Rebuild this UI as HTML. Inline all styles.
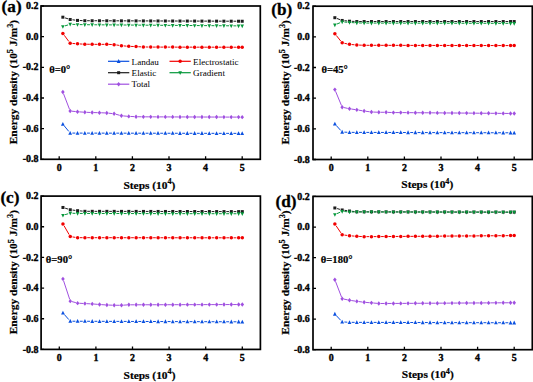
<!DOCTYPE html>
<html><head><meta charset="utf-8"><style>
html,body{margin:0;padding:0;background:#fff;}
svg{display:block;}
text{font-family:"Liberation Serif",serif;fill:#000;}
.tk{font-weight:bold;font-size:9.4px;stroke:#000;stroke-width:0.35px;}
.ax{font-weight:bold;font-size:11.4px;stroke:#000;stroke-width:0.2px;}
.sup{font-size:8.2px;}
.pl{font-weight:bold;font-size:17.2px;stroke:#000;stroke-width:0.3px;}
.th{font-weight:bold;font-size:10.6px;stroke:#000;stroke-width:0.2px;}
.lg{font-size:9.1px;}
</style></head><body>
<svg width="533" height="382" viewBox="0 0 533 382">
<rect width="533" height="382" fill="#fff"/>
<path d="M64.26,125.89L68.78,131.39M72.38,133.09L75.30,133.09M79.70,133.10L82.62,133.11M87.02,133.12L89.94,133.12M94.34,133.13L97.26,133.13M101.66,133.14L104.58,133.15M108.98,133.15L111.90,133.16M116.30,133.17L119.22,133.17M123.62,133.18L126.54,133.18M130.94,133.19L133.86,133.20M138.26,133.20L141.18,133.21M145.58,133.22L148.50,133.22M152.90,133.23L155.82,133.24M160.22,133.24L163.14,133.25M167.54,133.26L170.46,133.26M174.86,133.27L177.78,133.27M182.18,133.28L185.10,133.29M189.50,133.29L192.42,133.30M196.82,133.31L199.74,133.31M204.14,133.32L207.06,133.32M211.46,133.33L214.38,133.34M218.78,133.35L221.70,133.35M226.10,133.36L229.02,133.36M233.42,133.37L236.34,133.38" fill="none" stroke="#0a50e0" stroke-width="1"/>
<path d="M62.86,121.99L64.76,125.79L60.96,125.79Z" fill="#0a50e0"/>
<path d="M70.18,130.89L72.08,134.69L68.28,134.69Z" fill="#0a50e0"/>
<path d="M77.50,130.90L79.40,134.70L75.60,134.70Z" fill="#0a50e0"/>
<path d="M84.82,130.91L86.72,134.71L82.92,134.71Z" fill="#0a50e0"/>
<path d="M92.14,130.92L94.04,134.72L90.24,134.72Z" fill="#0a50e0"/>
<path d="M99.46,130.94L101.36,134.74L97.56,134.74Z" fill="#0a50e0"/>
<path d="M106.78,130.95L108.68,134.75L104.88,134.75Z" fill="#0a50e0"/>
<path d="M114.10,130.96L116.00,134.76L112.20,134.76Z" fill="#0a50e0"/>
<path d="M121.42,130.98L123.32,134.78L119.52,134.78Z" fill="#0a50e0"/>
<path d="M128.74,130.99L130.64,134.79L126.84,134.79Z" fill="#0a50e0"/>
<path d="M136.06,131.00L137.96,134.80L134.16,134.80Z" fill="#0a50e0"/>
<path d="M143.38,131.01L145.28,134.81L141.48,134.81Z" fill="#0a50e0"/>
<path d="M150.70,131.03L152.60,134.83L148.80,134.83Z" fill="#0a50e0"/>
<path d="M158.02,131.04L159.92,134.84L156.12,134.84Z" fill="#0a50e0"/>
<path d="M165.34,131.05L167.24,134.85L163.44,134.85Z" fill="#0a50e0"/>
<path d="M172.66,131.06L174.56,134.86L170.76,134.86Z" fill="#0a50e0"/>
<path d="M179.98,131.08L181.88,134.88L178.08,134.88Z" fill="#0a50e0"/>
<path d="M187.30,131.09L189.20,134.89L185.40,134.89Z" fill="#0a50e0"/>
<path d="M194.62,131.10L196.52,134.90L192.72,134.90Z" fill="#0a50e0"/>
<path d="M201.94,131.12L203.84,134.92L200.04,134.92Z" fill="#0a50e0"/>
<path d="M209.26,131.13L211.16,134.93L207.36,134.93Z" fill="#0a50e0"/>
<path d="M216.58,131.14L218.48,134.94L214.68,134.94Z" fill="#0a50e0"/>
<path d="M223.90,131.15L225.80,134.95L222.00,134.95Z" fill="#0a50e0"/>
<path d="M231.22,131.17L233.12,134.97L229.32,134.97Z" fill="#0a50e0"/>
<path d="M238.54,131.18L240.44,134.98L236.64,134.98Z" fill="#0a50e0"/>
<path d="M242.20,131.19L244.10,134.99L240.30,134.99Z" fill="#0a50e0"/>
<path d="M64.24,35.28L68.80,41.41M72.47,43.44L75.21,43.67M79.80,43.96L82.52,44.08M87.12,44.22L89.84,44.28M94.44,44.33L97.16,44.33M101.76,44.33L104.48,44.33M109.08,44.42L111.80,44.54M116.38,44.97L119.14,45.37M123.71,45.90L126.45,46.13M131.04,46.41L133.76,46.53M138.36,46.72L141.08,46.83M145.68,46.98L148.40,47.04M153.00,47.09L155.72,47.09M160.32,47.10L163.04,47.10M167.64,47.11L170.36,47.12M174.96,47.12L177.68,47.13M182.28,47.14L185.00,47.14M189.60,47.15L192.32,47.15M196.92,47.16L199.64,47.16M204.24,47.17L206.96,47.18M211.56,47.18L214.28,47.19M218.88,47.19L221.60,47.20M226.20,47.21L228.92,47.21M233.52,47.22L236.24,47.22" fill="none" stroke="#f20000" stroke-width="1"/>
<circle cx="62.86" cy="33.44" r="1.75" fill="#f20000"/>
<circle cx="70.18" cy="43.25" r="1.75" fill="#f20000"/>
<circle cx="77.50" cy="43.87" r="1.75" fill="#f20000"/>
<circle cx="84.82" cy="44.17" r="1.75" fill="#f20000"/>
<circle cx="92.14" cy="44.33" r="1.75" fill="#f20000"/>
<circle cx="99.46" cy="44.33" r="1.75" fill="#f20000"/>
<circle cx="106.78" cy="44.33" r="1.75" fill="#f20000"/>
<circle cx="114.10" cy="44.63" r="1.75" fill="#f20000"/>
<circle cx="121.42" cy="45.70" r="1.75" fill="#f20000"/>
<circle cx="128.74" cy="46.32" r="1.75" fill="#f20000"/>
<circle cx="136.06" cy="46.62" r="1.75" fill="#f20000"/>
<circle cx="143.38" cy="46.93" r="1.75" fill="#f20000"/>
<circle cx="150.70" cy="47.08" r="1.75" fill="#f20000"/>
<circle cx="158.02" cy="47.10" r="1.75" fill="#f20000"/>
<circle cx="165.34" cy="47.11" r="1.75" fill="#f20000"/>
<circle cx="172.66" cy="47.12" r="1.75" fill="#f20000"/>
<circle cx="179.98" cy="47.13" r="1.75" fill="#f20000"/>
<circle cx="187.30" cy="47.14" r="1.75" fill="#f20000"/>
<circle cx="194.62" cy="47.16" r="1.75" fill="#f20000"/>
<circle cx="201.94" cy="47.17" r="1.75" fill="#f20000"/>
<circle cx="209.26" cy="47.18" r="1.75" fill="#f20000"/>
<circle cx="216.58" cy="47.19" r="1.75" fill="#f20000"/>
<circle cx="223.90" cy="47.20" r="1.75" fill="#f20000"/>
<circle cx="231.22" cy="47.21" r="1.75" fill="#f20000"/>
<circle cx="238.54" cy="47.23" r="1.75" fill="#f20000"/>
<circle cx="242.20" cy="47.24" r="1.75" fill="#f20000"/>
<path d="M65.05,17.88L67.99,18.80M72.46,19.78L75.22,20.12M79.80,20.51L82.52,20.62M87.12,20.72L89.84,20.73M94.44,20.75L97.16,20.76M101.76,20.77L104.48,20.78M109.08,20.80L111.80,20.81M116.40,20.82L119.12,20.83M123.72,20.85L126.44,20.86M131.04,20.87L133.76,20.88M138.36,20.90L141.08,20.90M145.68,20.92L148.40,20.93M153.00,20.94L155.72,20.95M160.32,20.97L163.04,20.98M167.64,20.99L170.36,21.00M174.96,21.02L177.68,21.03M182.28,21.04L185.00,21.05M189.60,21.07L192.32,21.07M196.92,21.09L199.64,21.10M204.24,21.11L206.96,21.12M211.56,21.14L214.28,21.15M218.88,21.16L221.60,21.17M226.20,21.19L228.92,21.20M233.52,21.21L236.24,21.22" fill="none" stroke="#1c1c1c" stroke-width="1"/>
<rect x="61.36" y="15.69" width="3" height="3" fill="#1c1c1c"/>
<rect x="68.68" y="17.99" width="3" height="3" fill="#1c1c1c"/>
<rect x="76.00" y="18.91" width="3" height="3" fill="#1c1c1c"/>
<rect x="83.32" y="19.22" width="3" height="3" fill="#1c1c1c"/>
<rect x="90.64" y="19.24" width="3" height="3" fill="#1c1c1c"/>
<rect x="97.96" y="19.27" width="3" height="3" fill="#1c1c1c"/>
<rect x="105.28" y="19.29" width="3" height="3" fill="#1c1c1c"/>
<rect x="112.60" y="19.31" width="3" height="3" fill="#1c1c1c"/>
<rect x="119.92" y="19.34" width="3" height="3" fill="#1c1c1c"/>
<rect x="127.24" y="19.36" width="3" height="3" fill="#1c1c1c"/>
<rect x="134.56" y="19.39" width="3" height="3" fill="#1c1c1c"/>
<rect x="141.88" y="19.41" width="3" height="3" fill="#1c1c1c"/>
<rect x="149.20" y="19.44" width="3" height="3" fill="#1c1c1c"/>
<rect x="156.52" y="19.46" width="3" height="3" fill="#1c1c1c"/>
<rect x="163.84" y="19.49" width="3" height="3" fill="#1c1c1c"/>
<rect x="171.16" y="19.51" width="3" height="3" fill="#1c1c1c"/>
<rect x="178.48" y="19.53" width="3" height="3" fill="#1c1c1c"/>
<rect x="185.80" y="19.56" width="3" height="3" fill="#1c1c1c"/>
<rect x="193.12" y="19.58" width="3" height="3" fill="#1c1c1c"/>
<rect x="200.44" y="19.61" width="3" height="3" fill="#1c1c1c"/>
<rect x="207.76" y="19.63" width="3" height="3" fill="#1c1c1c"/>
<rect x="215.08" y="19.66" width="3" height="3" fill="#1c1c1c"/>
<rect x="222.40" y="19.68" width="3" height="3" fill="#1c1c1c"/>
<rect x="229.72" y="19.70" width="3" height="3" fill="#1c1c1c"/>
<rect x="237.04" y="19.73" width="3" height="3" fill="#1c1c1c"/>
<rect x="240.70" y="19.75" width="3" height="3" fill="#1c1c1c"/>
<path d="M64.96,25.88L68.08,24.90M72.38,24.33L75.30,24.46M79.70,24.60L82.62,24.66M87.02,24.72L89.94,24.74M94.34,24.78L97.26,24.80M101.66,24.83L104.58,24.85M108.98,24.89L111.90,24.91M116.30,24.94L119.22,24.96M123.62,25.00L126.54,25.02M130.94,25.05L133.86,25.08M138.26,25.11L141.18,25.13M145.58,25.17L148.50,25.19M152.90,25.22L155.82,25.24M160.22,25.28L163.14,25.30M167.54,25.33L170.46,25.35M174.86,25.39L177.78,25.41M182.18,25.44L185.10,25.47M189.50,25.50L192.42,25.52M196.82,25.56L199.74,25.58M204.14,25.61L207.06,25.63M211.46,25.67L214.38,25.69M218.78,25.72L221.70,25.75M226.10,25.78L229.02,25.80M233.42,25.83L236.34,25.86" fill="none" stroke="#05983a" stroke-width="1"/>
<path d="M62.86,28.84L64.66,25.14L61.06,25.14Z" fill="#05983a"/>
<path d="M70.18,26.54L71.98,22.84L68.38,22.84Z" fill="#05983a"/>
<path d="M77.50,26.85L79.30,23.15L75.70,23.15Z" fill="#05983a"/>
<path d="M84.82,27.00L86.62,23.30L83.02,23.30Z" fill="#05983a"/>
<path d="M92.14,27.06L93.94,23.36L90.34,23.36Z" fill="#05983a"/>
<path d="M99.46,27.11L101.26,23.41L97.66,23.41Z" fill="#05983a"/>
<path d="M106.78,27.17L108.58,23.47L104.98,23.47Z" fill="#05983a"/>
<path d="M114.10,27.23L115.90,23.53L112.30,23.53Z" fill="#05983a"/>
<path d="M121.42,27.28L123.22,23.58L119.62,23.58Z" fill="#05983a"/>
<path d="M128.74,27.34L130.54,23.64L126.94,23.64Z" fill="#05983a"/>
<path d="M136.06,27.39L137.86,23.69L134.26,23.69Z" fill="#05983a"/>
<path d="M143.38,27.45L145.18,23.75L141.58,23.75Z" fill="#05983a"/>
<path d="M150.70,27.50L152.50,23.80L148.90,23.80Z" fill="#05983a"/>
<path d="M158.02,27.56L159.82,23.86L156.22,23.86Z" fill="#05983a"/>
<path d="M165.34,27.62L167.14,23.92L163.54,23.92Z" fill="#05983a"/>
<path d="M172.66,27.67L174.46,23.97L170.86,23.97Z" fill="#05983a"/>
<path d="M179.98,27.73L181.78,24.03L178.18,24.03Z" fill="#05983a"/>
<path d="M187.30,27.78L189.10,24.08L185.50,24.08Z" fill="#05983a"/>
<path d="M194.62,27.84L196.42,24.14L192.82,24.14Z" fill="#05983a"/>
<path d="M201.94,27.89L203.74,24.19L200.14,24.19Z" fill="#05983a"/>
<path d="M209.26,27.95L211.06,24.25L207.46,24.25Z" fill="#05983a"/>
<path d="M216.58,28.01L218.38,24.31L214.78,24.31Z" fill="#05983a"/>
<path d="M223.90,28.06L225.70,24.36L222.10,24.36Z" fill="#05983a"/>
<path d="M231.22,28.12L233.02,24.42L229.42,24.42Z" fill="#05983a"/>
<path d="M238.54,28.17L240.34,24.47L236.74,24.47Z" fill="#05983a"/>
<path d="M242.20,28.23L244.00,24.53L240.40,24.53Z" fill="#05983a"/>
<path d="M63.51,93.68L69.53,109.33M71.97,111.20L75.71,111.59M79.30,111.89L83.02,112.12M86.62,112.31L90.34,112.47M93.94,112.58L97.66,112.66M101.26,112.77L104.98,112.93M108.57,113.19L112.31,113.58M115.84,114.24L119.68,115.29M123.21,115.91L126.95,116.23M130.54,116.45L134.26,116.61M137.86,116.72L141.58,116.80M145.18,116.84L148.90,116.85M152.50,116.86L156.22,116.87M159.82,116.89L163.54,116.90M167.14,116.91L170.86,116.92M174.46,116.93L178.18,116.94M181.78,116.95L185.50,116.96M189.10,116.97L192.82,116.98M196.42,116.99L200.14,117.01M203.74,117.02L207.46,117.03M211.06,117.04L214.78,117.05M218.38,117.06L222.10,117.07M225.70,117.08L229.42,117.09M233.02,117.10L236.74,117.12" fill="none" stroke="#a050e0" stroke-width="1"/>
<path d="M62.86,89.80L64.66,92.00L62.86,94.20L61.06,92.00Z" fill="#a050e0"/>
<path d="M70.18,108.81L71.98,111.01L70.18,113.21L68.38,111.01Z" fill="#a050e0"/>
<path d="M77.50,109.58L79.30,111.78L77.50,113.98L75.70,111.78Z" fill="#a050e0"/>
<path d="M84.82,110.04L86.62,112.24L84.82,114.44L83.02,112.24Z" fill="#a050e0"/>
<path d="M92.14,110.34L93.94,112.54L92.14,114.74L90.34,112.54Z" fill="#a050e0"/>
<path d="M99.46,110.50L101.26,112.70L99.46,114.90L97.66,112.70Z" fill="#a050e0"/>
<path d="M106.78,110.80L108.58,113.00L106.78,115.20L104.98,113.00Z" fill="#a050e0"/>
<path d="M114.10,111.57L115.90,113.77L114.10,115.97L112.30,113.77Z" fill="#a050e0"/>
<path d="M121.42,113.56L123.22,115.76L121.42,117.96L119.62,115.76Z" fill="#a050e0"/>
<path d="M128.74,114.18L130.54,116.38L128.74,118.58L126.94,116.38Z" fill="#a050e0"/>
<path d="M136.06,114.48L137.86,116.68L136.06,118.88L134.26,116.68Z" fill="#a050e0"/>
<path d="M143.38,114.64L145.18,116.84L143.38,119.04L141.58,116.84Z" fill="#a050e0"/>
<path d="M150.70,114.66L152.50,116.86L150.70,119.06L148.90,116.86Z" fill="#a050e0"/>
<path d="M158.02,114.68L159.82,116.88L158.02,119.08L156.22,116.88Z" fill="#a050e0"/>
<path d="M165.34,114.70L167.14,116.90L165.34,119.10L163.54,116.90Z" fill="#a050e0"/>
<path d="M172.66,114.72L174.46,116.92L172.66,119.12L170.86,116.92Z" fill="#a050e0"/>
<path d="M179.98,114.75L181.78,116.95L179.98,119.15L178.18,116.95Z" fill="#a050e0"/>
<path d="M187.30,114.77L189.10,116.97L187.30,119.17L185.50,116.97Z" fill="#a050e0"/>
<path d="M194.62,114.79L196.42,116.99L194.62,119.19L192.82,116.99Z" fill="#a050e0"/>
<path d="M201.94,114.81L203.74,117.01L201.94,119.21L200.14,117.01Z" fill="#a050e0"/>
<path d="M209.26,114.83L211.06,117.03L209.26,119.23L207.46,117.03Z" fill="#a050e0"/>
<path d="M216.58,114.85L218.38,117.05L216.58,119.25L214.78,117.05Z" fill="#a050e0"/>
<path d="M223.90,114.88L225.70,117.08L223.90,119.28L222.10,117.08Z" fill="#a050e0"/>
<path d="M231.22,114.90L233.02,117.10L231.22,119.30L229.42,117.10Z" fill="#a050e0"/>
<path d="M238.54,114.92L240.34,117.12L238.54,119.32L236.74,117.12Z" fill="#a050e0"/>
<path d="M242.20,114.94L244.00,117.14L242.20,119.34L240.40,117.14Z" fill="#a050e0"/>
<rect x="41.00" y="6.00" width="219.30" height="153.30" fill="none" stroke="#000" stroke-width="1.7"/>
<path d="M41.00,6.00h3M41.00,36.66h3M41.00,67.32h3M41.00,97.98h3M41.00,128.64h3M41.00,159.30h3M59.20,159.30v-3M95.80,159.30v-3M132.40,159.30v-3M169.00,159.30v-3M205.60,159.30v-3M242.20,159.30v-3" stroke="#000" stroke-width="1.3"/>
<text class="tk" x="25.98" y="9.10" textLength="12.42" lengthAdjust="spacingAndGlyphs">0.2</text>
<text class="tk" x="25.98" y="39.76" textLength="12.42" lengthAdjust="spacingAndGlyphs">0.0</text>
<text class="tk" x="22.67" y="70.42" textLength="15.73" lengthAdjust="spacingAndGlyphs">-0.2</text>
<text class="tk" x="22.67" y="101.08" textLength="15.73" lengthAdjust="spacingAndGlyphs">-0.4</text>
<text class="tk" x="22.67" y="131.74" textLength="15.73" lengthAdjust="spacingAndGlyphs">-0.6</text>
<text class="tk" x="22.67" y="162.40" textLength="15.73" lengthAdjust="spacingAndGlyphs">-0.8</text>
<text class="tk" x="56.71" y="170.70" textLength="4.97" lengthAdjust="spacingAndGlyphs">0</text>
<text class="tk" x="93.31" y="170.70" textLength="4.97" lengthAdjust="spacingAndGlyphs">1</text>
<text class="tk" x="129.91" y="170.70" textLength="4.97" lengthAdjust="spacingAndGlyphs">2</text>
<text class="tk" x="166.51" y="170.70" textLength="4.97" lengthAdjust="spacingAndGlyphs">3</text>
<text class="tk" x="203.11" y="170.70" textLength="4.97" lengthAdjust="spacingAndGlyphs">4</text>
<text class="tk" x="239.71" y="170.70" textLength="4.97" lengthAdjust="spacingAndGlyphs">5</text>
<text class="ax" x="149.40" y="188.60" text-anchor="middle">Steps (10<tspan class="sup" dy="-4.3">4</tspan><tspan dy="4.3">)</tspan></text>
<text class="ax" transform="translate(16.60,82.10) rotate(-90)" text-anchor="middle">Energy density (10<tspan class="sup" dy="-3.2">5</tspan><tspan dy="3.2"> J/m</tspan><tspan class="sup" dy="-4.0">3</tspan><tspan dy="4.0">)</tspan></text>
<text class="pl" x="1.60" y="12.40">(a)</text>
<text class="th" x="49.20" y="73.40">θ=0°</text>
<path d="M108.00,61.30h21.3" stroke="#0a50e0" stroke-width="1.2"/>
<path d="M118.65,59.10L120.55,62.90L116.75,62.90Z" fill="#0a50e0"/>
<text class="lg" x="131.60" y="64.50">Landau</text>
<path d="M169.50,61.30h21.3" stroke="#f20000" stroke-width="1.2"/>
<circle cx="180.15" cy="61.30" r="1.75" fill="#f20000"/>
<text class="lg" x="193.10" y="64.50">Electrostatic</text>
<path d="M108.00,72.70h21.3" stroke="#1c1c1c" stroke-width="1.2"/>
<rect x="117.15" y="71.20" width="3" height="3" fill="#1c1c1c"/>
<text class="lg" x="131.60" y="75.90">Elastic</text>
<path d="M169.50,72.70h21.3" stroke="#05983a" stroke-width="1.2"/>
<path d="M180.15,75.00L181.95,71.30L178.35,71.30Z" fill="#05983a"/>
<text class="lg" x="193.10" y="75.90">Gradient</text>
<path d="M108.00,84.20h21.3" stroke="#a050e0" stroke-width="1.2"/>
<path d="M118.65,82.00L120.45,84.20L118.65,86.40L116.85,84.20Z" fill="#a050e0"/>
<text class="lg" x="131.60" y="87.40">Total</text>
<path d="M336.33,125.57L340.71,130.42M344.38,132.15L347.30,132.27M351.70,132.37L354.62,132.38M359.02,132.39L361.94,132.40M366.34,132.41L369.26,132.42M373.66,132.43L376.58,132.44M380.98,132.45L383.90,132.46M388.30,132.47L391.22,132.48M395.62,132.49L398.54,132.50M402.94,132.51L405.86,132.52M410.26,132.53L413.18,132.54M417.58,132.55L420.50,132.56M424.90,132.57L427.82,132.58M432.22,132.59L435.14,132.60M439.54,132.61L442.46,132.62M446.86,132.63L449.78,132.64M454.18,132.65L457.10,132.66M461.50,132.67L464.42,132.68M468.82,132.69L471.74,132.70M476.14,132.71L479.06,132.72M483.46,132.73L486.38,132.74M490.78,132.75L493.70,132.76M498.10,132.77L501.02,132.78M505.42,132.79L508.34,132.80" fill="none" stroke="#0a50e0" stroke-width="1"/>
<path d="M334.86,121.73L336.76,125.53L332.96,125.53Z" fill="#0a50e0"/>
<path d="M342.18,129.86L344.08,133.66L340.28,133.66Z" fill="#0a50e0"/>
<path d="M349.50,130.17L351.40,133.97L347.60,133.97Z" fill="#0a50e0"/>
<path d="M356.82,130.19L358.72,133.99L354.92,133.99Z" fill="#0a50e0"/>
<path d="M364.14,130.21L366.04,134.01L362.24,134.01Z" fill="#0a50e0"/>
<path d="M371.46,130.23L373.36,134.03L369.56,134.03Z" fill="#0a50e0"/>
<path d="M378.78,130.25L380.68,134.05L376.88,134.05Z" fill="#0a50e0"/>
<path d="M386.10,130.27L388.00,134.07L384.20,134.07Z" fill="#0a50e0"/>
<path d="M393.42,130.29L395.32,134.09L391.52,134.09Z" fill="#0a50e0"/>
<path d="M400.74,130.31L402.64,134.11L398.84,134.11Z" fill="#0a50e0"/>
<path d="M408.06,130.33L409.96,134.13L406.16,134.13Z" fill="#0a50e0"/>
<path d="M415.38,130.35L417.28,134.15L413.48,134.15Z" fill="#0a50e0"/>
<path d="M422.70,130.37L424.60,134.17L420.80,134.17Z" fill="#0a50e0"/>
<path d="M430.02,130.39L431.92,134.19L428.12,134.19Z" fill="#0a50e0"/>
<path d="M437.34,130.41L439.24,134.21L435.44,134.21Z" fill="#0a50e0"/>
<path d="M444.66,130.43L446.56,134.23L442.76,134.23Z" fill="#0a50e0"/>
<path d="M451.98,130.45L453.88,134.25L450.08,134.25Z" fill="#0a50e0"/>
<path d="M459.30,130.47L461.20,134.27L457.40,134.27Z" fill="#0a50e0"/>
<path d="M466.62,130.49L468.52,134.29L464.72,134.29Z" fill="#0a50e0"/>
<path d="M473.94,130.51L475.84,134.31L472.04,134.31Z" fill="#0a50e0"/>
<path d="M481.26,130.53L483.16,134.33L479.36,134.33Z" fill="#0a50e0"/>
<path d="M488.58,130.55L490.48,134.35L486.68,134.35Z" fill="#0a50e0"/>
<path d="M495.90,130.57L497.80,134.37L494.00,134.37Z" fill="#0a50e0"/>
<path d="M503.22,130.59L505.12,134.39L501.32,134.39Z" fill="#0a50e0"/>
<path d="M510.54,130.61L512.44,134.41L508.64,134.41Z" fill="#0a50e0"/>
<path d="M514.20,130.63L516.10,134.43L512.30,134.43Z" fill="#0a50e0"/>
<path d="M336.29,35.44L340.75,41.04M344.43,43.31L347.25,43.90M351.79,44.56L354.53,44.79M359.12,45.08L361.84,45.20M366.44,45.30L369.16,45.30M373.76,45.31L376.48,45.32M381.08,45.33L383.80,45.33M388.40,45.34L391.12,45.35M395.72,45.35L398.44,45.36M403.04,45.37L405.76,45.37M410.36,45.38L413.08,45.39M417.68,45.40L420.40,45.40M425.00,45.41L427.72,45.42M432.32,45.43L435.04,45.43M439.64,45.44L442.36,45.45M446.96,45.46L449.68,45.46M454.28,45.47L457.00,45.48M461.60,45.49L464.32,45.49M468.92,45.50L471.64,45.51M476.24,45.52L478.96,45.52M483.56,45.53L486.28,45.54M490.88,45.54L493.60,45.55M498.20,45.56L500.92,45.56M505.52,45.57L508.24,45.58" fill="none" stroke="#f20000" stroke-width="1"/>
<circle cx="334.86" cy="33.64" r="1.75" fill="#f20000"/>
<circle cx="342.18" cy="42.84" r="1.75" fill="#f20000"/>
<circle cx="349.50" cy="44.37" r="1.75" fill="#f20000"/>
<circle cx="356.82" cy="44.98" r="1.75" fill="#f20000"/>
<circle cx="364.14" cy="45.29" r="1.75" fill="#f20000"/>
<circle cx="371.46" cy="45.31" r="1.75" fill="#f20000"/>
<circle cx="378.78" cy="45.32" r="1.75" fill="#f20000"/>
<circle cx="386.10" cy="45.34" r="1.75" fill="#f20000"/>
<circle cx="393.42" cy="45.35" r="1.75" fill="#f20000"/>
<circle cx="400.74" cy="45.36" r="1.75" fill="#f20000"/>
<circle cx="408.06" cy="45.38" r="1.75" fill="#f20000"/>
<circle cx="415.38" cy="45.39" r="1.75" fill="#f20000"/>
<circle cx="422.70" cy="45.41" r="1.75" fill="#f20000"/>
<circle cx="430.02" cy="45.42" r="1.75" fill="#f20000"/>
<circle cx="437.34" cy="45.44" r="1.75" fill="#f20000"/>
<circle cx="444.66" cy="45.45" r="1.75" fill="#f20000"/>
<circle cx="451.98" cy="45.47" r="1.75" fill="#f20000"/>
<circle cx="459.30" cy="45.48" r="1.75" fill="#f20000"/>
<circle cx="466.62" cy="45.50" r="1.75" fill="#f20000"/>
<circle cx="473.94" cy="45.51" r="1.75" fill="#f20000"/>
<circle cx="481.26" cy="45.53" r="1.75" fill="#f20000"/>
<circle cx="488.58" cy="45.54" r="1.75" fill="#f20000"/>
<circle cx="495.90" cy="45.55" r="1.75" fill="#f20000"/>
<circle cx="503.22" cy="45.57" r="1.75" fill="#f20000"/>
<circle cx="510.54" cy="45.58" r="1.75" fill="#f20000"/>
<circle cx="514.20" cy="45.60" r="1.75" fill="#f20000"/>
<path d="M337.01,18.51L340.03,19.65M344.47,20.70L347.21,20.98M351.80,21.32L354.52,21.43M359.12,21.53L361.84,21.53M366.44,21.53L369.16,21.53M373.76,21.53L376.48,21.53M381.08,21.53L383.80,21.53M388.40,21.53L391.12,21.53M395.72,21.53L398.44,21.53M403.04,21.53L405.76,21.53M410.36,21.53L413.08,21.53M417.68,21.53L420.40,21.53M425.00,21.53L427.72,21.53M432.32,21.53L435.04,21.53M439.64,21.53L442.36,21.53M446.96,21.53L449.68,21.53M454.28,21.53L457.00,21.53M461.60,21.53L464.32,21.53M468.92,21.53L471.64,21.53M476.24,21.53L478.96,21.53M483.56,21.53L486.28,21.53M490.88,21.53L493.60,21.53M498.20,21.53L500.92,21.53M505.52,21.53L508.24,21.53" fill="none" stroke="#1c1c1c" stroke-width="1"/>
<rect x="333.36" y="16.20" width="3" height="3" fill="#1c1c1c"/>
<rect x="340.68" y="18.96" width="3" height="3" fill="#1c1c1c"/>
<rect x="348.00" y="19.72" width="3" height="3" fill="#1c1c1c"/>
<rect x="355.32" y="20.03" width="3" height="3" fill="#1c1c1c"/>
<rect x="362.64" y="20.03" width="3" height="3" fill="#1c1c1c"/>
<rect x="369.96" y="20.03" width="3" height="3" fill="#1c1c1c"/>
<rect x="377.28" y="20.03" width="3" height="3" fill="#1c1c1c"/>
<rect x="384.60" y="20.03" width="3" height="3" fill="#1c1c1c"/>
<rect x="391.92" y="20.03" width="3" height="3" fill="#1c1c1c"/>
<rect x="399.24" y="20.03" width="3" height="3" fill="#1c1c1c"/>
<rect x="406.56" y="20.03" width="3" height="3" fill="#1c1c1c"/>
<rect x="413.88" y="20.03" width="3" height="3" fill="#1c1c1c"/>
<rect x="421.20" y="20.03" width="3" height="3" fill="#1c1c1c"/>
<rect x="428.52" y="20.03" width="3" height="3" fill="#1c1c1c"/>
<rect x="435.84" y="20.03" width="3" height="3" fill="#1c1c1c"/>
<rect x="443.16" y="20.03" width="3" height="3" fill="#1c1c1c"/>
<rect x="450.48" y="20.03" width="3" height="3" fill="#1c1c1c"/>
<rect x="457.80" y="20.03" width="3" height="3" fill="#1c1c1c"/>
<rect x="465.12" y="20.03" width="3" height="3" fill="#1c1c1c"/>
<rect x="472.44" y="20.03" width="3" height="3" fill="#1c1c1c"/>
<rect x="479.76" y="20.03" width="3" height="3" fill="#1c1c1c"/>
<rect x="487.08" y="20.03" width="3" height="3" fill="#1c1c1c"/>
<rect x="494.40" y="20.03" width="3" height="3" fill="#1c1c1c"/>
<rect x="501.72" y="20.03" width="3" height="3" fill="#1c1c1c"/>
<rect x="509.04" y="20.03" width="3" height="3" fill="#1c1c1c"/>
<rect x="512.70" y="20.03" width="3" height="3" fill="#1c1c1c"/>
<path d="M336.89,24.05L340.15,22.69M344.37,22.02L347.31,22.27M351.70,22.59L354.62,22.77M359.02,22.96L361.94,23.02M366.34,23.07L369.26,23.07M373.66,23.08L376.58,23.09M380.98,23.10L383.90,23.10M388.30,23.11L391.22,23.12M395.62,23.13L398.54,23.13M402.94,23.14L405.86,23.15M410.26,23.15L413.18,23.16M417.58,23.17L420.50,23.18M424.90,23.18L427.82,23.19M432.22,23.20L435.14,23.20M439.54,23.21L442.46,23.22M446.86,23.23L449.78,23.23M454.18,23.24L457.10,23.25M461.50,23.26L464.42,23.26M468.82,23.27L471.74,23.28M476.14,23.29L479.06,23.29M483.46,23.30L486.38,23.31M490.78,23.32L493.70,23.32M498.10,23.33L501.02,23.34M505.42,23.34L508.34,23.35" fill="none" stroke="#05983a" stroke-width="1"/>
<path d="M334.86,27.20L336.66,23.50L333.06,23.50Z" fill="#05983a"/>
<path d="M342.18,24.14L343.98,20.44L340.38,20.44Z" fill="#05983a"/>
<path d="M349.50,24.75L351.30,21.05L347.70,21.05Z" fill="#05983a"/>
<path d="M356.82,25.21L358.62,21.51L355.02,21.51Z" fill="#05983a"/>
<path d="M364.14,25.36L365.94,21.66L362.34,21.66Z" fill="#05983a"/>
<path d="M371.46,25.38L373.26,21.68L369.66,21.68Z" fill="#05983a"/>
<path d="M378.78,25.39L380.58,21.69L376.98,21.69Z" fill="#05983a"/>
<path d="M386.10,25.41L387.90,21.71L384.30,21.71Z" fill="#05983a"/>
<path d="M393.42,25.42L395.22,21.72L391.62,21.72Z" fill="#05983a"/>
<path d="M400.74,25.44L402.54,21.74L398.94,21.74Z" fill="#05983a"/>
<path d="M408.06,25.45L409.86,21.75L406.26,21.75Z" fill="#05983a"/>
<path d="M415.38,25.47L417.18,21.77L413.58,21.77Z" fill="#05983a"/>
<path d="M422.70,25.48L424.50,21.78L420.90,21.78Z" fill="#05983a"/>
<path d="M430.02,25.49L431.82,21.79L428.22,21.79Z" fill="#05983a"/>
<path d="M437.34,25.51L439.14,21.81L435.54,21.81Z" fill="#05983a"/>
<path d="M444.66,25.52L446.46,21.82L442.86,21.82Z" fill="#05983a"/>
<path d="M451.98,25.54L453.78,21.84L450.18,21.84Z" fill="#05983a"/>
<path d="M459.30,25.55L461.10,21.85L457.50,21.85Z" fill="#05983a"/>
<path d="M466.62,25.57L468.42,21.87L464.82,21.87Z" fill="#05983a"/>
<path d="M473.94,25.58L475.74,21.88L472.14,21.88Z" fill="#05983a"/>
<path d="M481.26,25.60L483.06,21.90L479.46,21.90Z" fill="#05983a"/>
<path d="M488.58,25.61L490.38,21.91L486.78,21.91Z" fill="#05983a"/>
<path d="M495.90,25.63L497.70,21.93L494.10,21.93Z" fill="#05983a"/>
<path d="M503.22,25.64L505.02,21.94L501.42,21.94Z" fill="#05983a"/>
<path d="M510.54,25.66L512.34,21.96L508.74,21.96Z" fill="#05983a"/>
<path d="M514.20,25.67L516.00,21.97L512.40,21.97Z" fill="#05983a"/>
<path d="M335.55,91.26L341.49,105.56M343.94,107.59L347.74,108.39M351.28,109.02L355.04,109.57M358.60,110.13L362.36,110.76M365.93,111.28L369.67,111.75M373.26,112.05L376.98,112.21M380.58,112.28L384.30,112.28M387.90,112.36L391.62,112.51M395.22,112.59L398.94,112.59M402.54,112.60L406.26,112.63M409.86,112.66L413.58,112.69M417.18,112.72L420.90,112.75M424.50,112.78L428.22,112.81M431.82,112.83L435.54,112.86M439.14,112.89L442.86,112.92M446.46,112.95L450.18,112.98M453.78,113.01L457.50,113.04M461.10,113.06L464.82,113.09M468.42,113.12L472.14,113.15M475.74,113.18L479.46,113.21M483.06,113.24L486.78,113.27M490.38,113.29L494.10,113.32M497.70,113.35L501.42,113.38M505.02,113.41L508.74,113.44" fill="none" stroke="#a050e0" stroke-width="1"/>
<path d="M334.86,87.40L336.66,89.60L334.86,91.80L333.06,89.60Z" fill="#a050e0"/>
<path d="M342.18,105.02L343.98,107.22L342.18,109.42L340.38,107.22Z" fill="#a050e0"/>
<path d="M349.50,106.56L351.30,108.76L349.50,110.96L347.70,108.76Z" fill="#a050e0"/>
<path d="M356.82,107.63L358.62,109.83L356.82,112.03L355.02,109.83Z" fill="#a050e0"/>
<path d="M364.14,108.86L365.94,111.06L364.14,113.26L362.34,111.06Z" fill="#a050e0"/>
<path d="M371.46,109.78L373.26,111.98L371.46,114.18L369.66,111.98Z" fill="#a050e0"/>
<path d="M378.78,110.08L380.58,112.28L378.78,114.48L376.98,112.28Z" fill="#a050e0"/>
<path d="M386.10,110.08L387.90,112.28L386.10,114.48L384.30,112.28Z" fill="#a050e0"/>
<path d="M393.42,110.39L395.22,112.59L393.42,114.79L391.62,112.59Z" fill="#a050e0"/>
<path d="M400.74,110.39L402.54,112.59L400.74,114.79L398.94,112.59Z" fill="#a050e0"/>
<path d="M408.06,110.45L409.86,112.65L408.06,114.85L406.26,112.65Z" fill="#a050e0"/>
<path d="M415.38,110.51L417.18,112.71L415.38,114.91L413.58,112.71Z" fill="#a050e0"/>
<path d="M422.70,110.56L424.50,112.76L422.70,114.96L420.90,112.76Z" fill="#a050e0"/>
<path d="M430.02,110.62L431.82,112.82L430.02,115.02L428.22,112.82Z" fill="#a050e0"/>
<path d="M437.34,110.68L439.14,112.88L437.34,115.08L435.54,112.88Z" fill="#a050e0"/>
<path d="M444.66,110.74L446.46,112.94L444.66,115.14L442.86,112.94Z" fill="#a050e0"/>
<path d="M451.98,110.79L453.78,112.99L451.98,115.19L450.18,112.99Z" fill="#a050e0"/>
<path d="M459.30,110.85L461.10,113.05L459.30,115.25L457.50,113.05Z" fill="#a050e0"/>
<path d="M466.62,110.91L468.42,113.11L466.62,115.31L464.82,113.11Z" fill="#a050e0"/>
<path d="M473.94,110.97L475.74,113.17L473.94,115.37L472.14,113.17Z" fill="#a050e0"/>
<path d="M481.26,111.02L483.06,113.22L481.26,115.42L479.46,113.22Z" fill="#a050e0"/>
<path d="M488.58,111.08L490.38,113.28L488.58,115.48L486.78,113.28Z" fill="#a050e0"/>
<path d="M495.90,111.14L497.70,113.34L495.90,115.54L494.10,113.34Z" fill="#a050e0"/>
<path d="M503.22,111.20L505.02,113.40L503.22,115.60L501.42,113.40Z" fill="#a050e0"/>
<path d="M510.54,111.25L512.34,113.45L510.54,115.65L508.74,113.45Z" fill="#a050e0"/>
<path d="M514.20,111.31L516.00,113.51L514.20,115.71L512.40,113.51Z" fill="#a050e0"/>
<rect x="313.00" y="6.20" width="219.30" height="153.30" fill="none" stroke="#000" stroke-width="1.7"/>
<path d="M313.00,6.20h3M313.00,36.86h3M313.00,67.52h3M313.00,98.18h3M313.00,128.84h3M313.00,159.50h3M331.20,159.50v-3M367.80,159.50v-3M404.40,159.50v-3M441.00,159.50v-3M477.60,159.50v-3M514.20,159.50v-3" stroke="#000" stroke-width="1.3"/>
<text class="tk" x="297.38" y="9.30" textLength="12.42" lengthAdjust="spacingAndGlyphs">0.2</text>
<text class="tk" x="297.38" y="39.96" textLength="12.42" lengthAdjust="spacingAndGlyphs">0.0</text>
<text class="tk" x="294.07" y="70.62" textLength="15.73" lengthAdjust="spacingAndGlyphs">-0.2</text>
<text class="tk" x="294.07" y="101.28" textLength="15.73" lengthAdjust="spacingAndGlyphs">-0.4</text>
<text class="tk" x="294.07" y="131.94" textLength="15.73" lengthAdjust="spacingAndGlyphs">-0.6</text>
<text class="tk" x="294.07" y="162.60" textLength="15.73" lengthAdjust="spacingAndGlyphs">-0.8</text>
<text class="tk" x="328.71" y="170.90" textLength="4.97" lengthAdjust="spacingAndGlyphs">0</text>
<text class="tk" x="365.31" y="170.90" textLength="4.97" lengthAdjust="spacingAndGlyphs">1</text>
<text class="tk" x="401.91" y="170.90" textLength="4.97" lengthAdjust="spacingAndGlyphs">2</text>
<text class="tk" x="438.51" y="170.90" textLength="4.97" lengthAdjust="spacingAndGlyphs">3</text>
<text class="tk" x="475.11" y="170.90" textLength="4.97" lengthAdjust="spacingAndGlyphs">4</text>
<text class="tk" x="511.71" y="170.90" textLength="4.97" lengthAdjust="spacingAndGlyphs">5</text>
<text class="ax" x="427.30" y="188.20" text-anchor="middle">Steps (10<tspan class="sup" dy="-4.3">4</tspan><tspan dy="4.3">)</tspan></text>
<text class="ax" transform="translate(288.60,82.30) rotate(-90)" text-anchor="middle">Energy density (10<tspan class="sup" dy="-3.2">5</tspan><tspan dy="3.2"> J/m</tspan><tspan class="sup" dy="-4.0">3</tspan><tspan dy="4.0">)</tspan></text>
<text class="pl" x="271.30" y="15.30">(b)</text>
<text class="th" x="321.40" y="72.60">θ=45°</text>
<path d="M64.42,314.59L68.82,319.58M72.48,321.23L75.40,321.24M79.80,321.26L82.72,321.27M87.12,321.28L90.04,321.29M94.44,321.31L97.36,321.32M101.76,321.33L104.68,321.34M109.08,321.36L112.00,321.37M116.40,321.38L119.32,321.39M123.72,321.41L126.64,321.42M131.04,321.44L133.96,321.45M138.36,321.46L141.28,321.47M145.68,321.49L148.60,321.50M153.00,321.51L155.92,321.52M160.32,321.54L163.24,321.55M167.64,321.56L170.56,321.57M174.96,321.59L177.88,321.60M182.28,321.61L185.20,321.62M189.60,321.64L192.52,321.65M196.92,321.67L199.84,321.68M204.24,321.69L207.16,321.70M211.56,321.72L214.48,321.73M218.88,321.74L221.80,321.75M226.20,321.77L229.12,321.78M233.52,321.79L236.44,321.80" fill="none" stroke="#0a50e0" stroke-width="1"/>
<path d="M62.96,310.75L64.86,314.55L61.06,314.55Z" fill="#0a50e0"/>
<path d="M70.28,319.02L72.18,322.82L68.38,322.82Z" fill="#0a50e0"/>
<path d="M77.60,319.05L79.50,322.85L75.70,322.85Z" fill="#0a50e0"/>
<path d="M84.92,319.07L86.82,322.87L83.02,322.87Z" fill="#0a50e0"/>
<path d="M92.24,319.10L94.14,322.90L90.34,322.90Z" fill="#0a50e0"/>
<path d="M99.56,319.13L101.46,322.93L97.66,322.93Z" fill="#0a50e0"/>
<path d="M106.88,319.15L108.78,322.95L104.98,322.95Z" fill="#0a50e0"/>
<path d="M114.20,319.18L116.10,322.98L112.30,322.98Z" fill="#0a50e0"/>
<path d="M121.52,319.20L123.42,323.00L119.62,323.00Z" fill="#0a50e0"/>
<path d="M128.84,319.23L130.74,323.03L126.94,323.03Z" fill="#0a50e0"/>
<path d="M136.16,319.25L138.06,323.05L134.26,323.05Z" fill="#0a50e0"/>
<path d="M143.48,319.28L145.38,323.08L141.58,323.08Z" fill="#0a50e0"/>
<path d="M150.80,319.30L152.70,323.10L148.90,323.10Z" fill="#0a50e0"/>
<path d="M158.12,319.33L160.02,323.13L156.22,323.13Z" fill="#0a50e0"/>
<path d="M165.44,319.36L167.34,323.16L163.54,323.16Z" fill="#0a50e0"/>
<path d="M172.76,319.38L174.66,323.18L170.86,323.18Z" fill="#0a50e0"/>
<path d="M180.08,319.41L181.98,323.21L178.18,323.21Z" fill="#0a50e0"/>
<path d="M187.40,319.43L189.30,323.23L185.50,323.23Z" fill="#0a50e0"/>
<path d="M194.72,319.46L196.62,323.26L192.82,323.26Z" fill="#0a50e0"/>
<path d="M202.04,319.48L203.94,323.28L200.14,323.28Z" fill="#0a50e0"/>
<path d="M209.36,319.51L211.26,323.31L207.46,323.31Z" fill="#0a50e0"/>
<path d="M216.68,319.53L218.58,323.33L214.78,323.33Z" fill="#0a50e0"/>
<path d="M224.00,319.56L225.90,323.36L222.10,323.36Z" fill="#0a50e0"/>
<path d="M231.32,319.59L233.22,323.39L229.42,323.39Z" fill="#0a50e0"/>
<path d="M238.64,319.61L240.54,323.41L236.74,323.41Z" fill="#0a50e0"/>
<path d="M242.30,319.64L244.20,323.44L240.40,323.44Z" fill="#0a50e0"/>
<path d="M64.11,225.87L69.13,234.61M72.56,236.94L75.32,237.34M79.90,237.68L82.62,237.68M87.22,237.68L89.94,237.69M94.54,237.69L97.26,237.69M101.86,237.70L104.58,237.70M109.18,237.70L111.90,237.71M116.50,237.71L119.22,237.71M123.82,237.72L126.54,237.72M131.14,237.72L133.86,237.73M138.46,237.73L141.18,237.73M145.78,237.74L148.50,237.74M153.10,237.74L155.82,237.75M160.42,237.75L163.14,237.75M167.74,237.76L170.46,237.76M175.06,237.76L177.78,237.77M182.38,237.77L185.10,237.77M189.70,237.78L192.42,237.78M197.02,237.78L199.74,237.79M204.34,237.79L207.06,237.79M211.66,237.80L214.38,237.80M218.98,237.80L221.70,237.81M226.30,237.81L229.02,237.81M233.62,237.82L236.34,237.82" fill="none" stroke="#f20000" stroke-width="1"/>
<circle cx="62.96" cy="223.88" r="1.75" fill="#f20000"/>
<circle cx="70.28" cy="236.60" r="1.75" fill="#f20000"/>
<circle cx="77.60" cy="237.67" r="1.75" fill="#f20000"/>
<circle cx="84.92" cy="237.68" r="1.75" fill="#f20000"/>
<circle cx="92.24" cy="237.69" r="1.75" fill="#f20000"/>
<circle cx="99.56" cy="237.69" r="1.75" fill="#f20000"/>
<circle cx="106.88" cy="237.70" r="1.75" fill="#f20000"/>
<circle cx="114.20" cy="237.71" r="1.75" fill="#f20000"/>
<circle cx="121.52" cy="237.71" r="1.75" fill="#f20000"/>
<circle cx="128.84" cy="237.72" r="1.75" fill="#f20000"/>
<circle cx="136.16" cy="237.73" r="1.75" fill="#f20000"/>
<circle cx="143.48" cy="237.73" r="1.75" fill="#f20000"/>
<circle cx="150.80" cy="237.74" r="1.75" fill="#f20000"/>
<circle cx="158.12" cy="237.75" r="1.75" fill="#f20000"/>
<circle cx="165.44" cy="237.75" r="1.75" fill="#f20000"/>
<circle cx="172.76" cy="237.76" r="1.75" fill="#f20000"/>
<circle cx="180.08" cy="237.77" r="1.75" fill="#f20000"/>
<circle cx="187.40" cy="237.77" r="1.75" fill="#f20000"/>
<circle cx="194.72" cy="237.78" r="1.75" fill="#f20000"/>
<circle cx="202.04" cy="237.79" r="1.75" fill="#f20000"/>
<circle cx="209.36" cy="237.79" r="1.75" fill="#f20000"/>
<circle cx="216.68" cy="237.80" r="1.75" fill="#f20000"/>
<circle cx="224.00" cy="237.81" r="1.75" fill="#f20000"/>
<circle cx="231.32" cy="237.81" r="1.75" fill="#f20000"/>
<circle cx="238.64" cy="237.82" r="1.75" fill="#f20000"/>
<circle cx="242.30" cy="237.83" r="1.75" fill="#f20000"/>
<path d="M65.15,208.16L68.09,209.09M72.56,210.06L75.32,210.41M79.89,210.89L82.63,211.12M87.22,211.31L89.94,211.32M94.54,211.33L97.26,211.33M101.86,211.34L104.58,211.34M109.18,211.35L111.90,211.36M116.50,211.37L119.22,211.37M123.82,211.38L126.54,211.39M131.14,211.40L133.86,211.40M138.46,211.41L141.18,211.41M145.78,211.42L148.50,211.43M153.10,211.44L155.82,211.44M160.42,211.45L163.14,211.46M167.74,211.47L170.46,211.47M175.06,211.48L177.78,211.48M182.38,211.49L185.10,211.50M189.70,211.51L192.42,211.51M197.02,211.52L199.74,211.53M204.34,211.53L207.06,211.54M211.66,211.55L214.38,211.55M218.98,211.56L221.70,211.57M226.30,211.58L229.02,211.58M233.62,211.59L236.34,211.60" fill="none" stroke="#1c1c1c" stroke-width="1"/>
<rect x="61.46" y="205.97" width="3" height="3" fill="#1c1c1c"/>
<rect x="68.78" y="208.27" width="3" height="3" fill="#1c1c1c"/>
<rect x="76.10" y="209.19" width="3" height="3" fill="#1c1c1c"/>
<rect x="83.42" y="209.81" width="3" height="3" fill="#1c1c1c"/>
<rect x="90.74" y="209.82" width="3" height="3" fill="#1c1c1c"/>
<rect x="98.06" y="209.84" width="3" height="3" fill="#1c1c1c"/>
<rect x="105.38" y="209.85" width="3" height="3" fill="#1c1c1c"/>
<rect x="112.70" y="209.86" width="3" height="3" fill="#1c1c1c"/>
<rect x="120.02" y="209.88" width="3" height="3" fill="#1c1c1c"/>
<rect x="127.34" y="209.89" width="3" height="3" fill="#1c1c1c"/>
<rect x="134.66" y="209.90" width="3" height="3" fill="#1c1c1c"/>
<rect x="141.98" y="209.92" width="3" height="3" fill="#1c1c1c"/>
<rect x="149.30" y="209.93" width="3" height="3" fill="#1c1c1c"/>
<rect x="156.62" y="209.95" width="3" height="3" fill="#1c1c1c"/>
<rect x="163.94" y="209.96" width="3" height="3" fill="#1c1c1c"/>
<rect x="171.26" y="209.97" width="3" height="3" fill="#1c1c1c"/>
<rect x="178.58" y="209.99" width="3" height="3" fill="#1c1c1c"/>
<rect x="185.90" y="210.00" width="3" height="3" fill="#1c1c1c"/>
<rect x="193.22" y="210.02" width="3" height="3" fill="#1c1c1c"/>
<rect x="200.54" y="210.03" width="3" height="3" fill="#1c1c1c"/>
<rect x="207.86" y="210.04" width="3" height="3" fill="#1c1c1c"/>
<rect x="215.18" y="210.06" width="3" height="3" fill="#1c1c1c"/>
<rect x="222.50" y="210.07" width="3" height="3" fill="#1c1c1c"/>
<rect x="229.82" y="210.09" width="3" height="3" fill="#1c1c1c"/>
<rect x="237.14" y="210.10" width="3" height="3" fill="#1c1c1c"/>
<rect x="240.80" y="210.11" width="3" height="3" fill="#1c1c1c"/>
<path d="M65.07,214.67L68.17,213.77M72.48,213.24L75.40,213.36M79.80,213.46L82.72,213.46M87.12,213.47L90.04,213.48M94.44,213.48L97.36,213.49M101.76,213.50L104.68,213.50M109.08,213.51L112.00,213.52M116.40,213.52L119.32,213.53M123.72,213.54L126.64,213.54M131.04,213.55L133.96,213.56M138.36,213.56L141.28,213.57M145.68,213.58L148.60,213.58M153.00,213.59L155.92,213.60M160.32,213.60L163.24,213.61M167.64,213.62L170.56,213.62M174.96,213.63L177.88,213.64M182.28,213.64L185.20,213.65M189.60,213.66L192.52,213.66M196.92,213.67L199.84,213.68M204.24,213.68L207.16,213.69M211.56,213.70L214.48,213.70M218.88,213.71L221.80,213.72M226.20,213.72L229.12,213.73M233.52,213.74L236.44,213.74" fill="none" stroke="#05983a" stroke-width="1"/>
<path d="M62.96,217.59L64.76,213.89L61.16,213.89Z" fill="#05983a"/>
<path d="M70.28,215.45L72.08,211.75L68.48,211.75Z" fill="#05983a"/>
<path d="M77.60,215.75L79.40,212.05L75.80,212.05Z" fill="#05983a"/>
<path d="M84.92,215.77L86.72,212.07L83.12,212.07Z" fill="#05983a"/>
<path d="M92.24,215.78L94.04,212.08L90.44,212.08Z" fill="#05983a"/>
<path d="M99.56,215.79L101.36,212.09L97.76,212.09Z" fill="#05983a"/>
<path d="M106.88,215.81L108.68,212.11L105.08,212.11Z" fill="#05983a"/>
<path d="M114.20,215.82L116.00,212.12L112.40,212.12Z" fill="#05983a"/>
<path d="M121.52,215.83L123.32,212.13L119.72,212.13Z" fill="#05983a"/>
<path d="M128.84,215.85L130.64,212.15L127.04,212.15Z" fill="#05983a"/>
<path d="M136.16,215.86L137.96,212.16L134.36,212.16Z" fill="#05983a"/>
<path d="M143.48,215.87L145.28,212.17L141.68,212.17Z" fill="#05983a"/>
<path d="M150.80,215.89L152.60,212.19L149.00,212.19Z" fill="#05983a"/>
<path d="M158.12,215.90L159.92,212.20L156.32,212.20Z" fill="#05983a"/>
<path d="M165.44,215.91L167.24,212.21L163.64,212.21Z" fill="#05983a"/>
<path d="M172.76,215.93L174.56,212.23L170.96,212.23Z" fill="#05983a"/>
<path d="M180.08,215.94L181.88,212.24L178.28,212.24Z" fill="#05983a"/>
<path d="M187.40,215.95L189.20,212.25L185.60,212.25Z" fill="#05983a"/>
<path d="M194.72,215.97L196.52,212.27L192.92,212.27Z" fill="#05983a"/>
<path d="M202.04,215.98L203.84,212.28L200.24,212.28Z" fill="#05983a"/>
<path d="M209.36,215.99L211.16,212.29L207.56,212.29Z" fill="#05983a"/>
<path d="M216.68,216.01L218.48,212.31L214.88,212.31Z" fill="#05983a"/>
<path d="M224.00,216.02L225.80,212.32L222.20,212.32Z" fill="#05983a"/>
<path d="M231.32,216.03L233.12,212.33L229.52,212.33Z" fill="#05983a"/>
<path d="M238.64,216.05L240.44,212.35L236.84,212.35Z" fill="#05983a"/>
<path d="M242.30,216.06L244.10,212.36L240.50,212.36Z" fill="#05983a"/>
<path d="M63.52,280.62L69.72,299.43M72.02,301.61L75.86,302.66M79.40,303.25L83.12,303.48M86.72,303.67L90.44,303.83M94.03,304.05L97.77,304.36M101.36,304.63L105.08,304.86M108.68,305.05L112.40,305.20M116.00,305.28L119.72,305.28M123.32,305.17L127.04,304.93M130.64,304.82L134.36,304.81M137.96,304.80L141.68,304.79M145.28,304.78L149.00,304.77M152.60,304.76L156.32,304.75M159.92,304.74L163.64,304.73M167.24,304.72L170.96,304.71M174.56,304.70L178.28,304.69M181.88,304.68L185.60,304.67M189.20,304.66L192.92,304.65M196.52,304.64L200.24,304.63M203.84,304.62L207.56,304.61M211.16,304.60L214.88,304.60M218.48,304.59L222.20,304.58M225.80,304.57L229.52,304.56M233.12,304.55L236.84,304.54" fill="none" stroke="#a050e0" stroke-width="1"/>
<path d="M62.96,276.71L64.76,278.91L62.96,281.11L61.16,278.91Z" fill="#a050e0"/>
<path d="M70.28,298.94L72.08,301.14L70.28,303.34L68.48,301.14Z" fill="#a050e0"/>
<path d="M77.60,300.93L79.40,303.13L77.60,305.33L75.80,303.13Z" fill="#a050e0"/>
<path d="M84.92,301.39L86.72,303.59L84.92,305.79L83.12,303.59Z" fill="#a050e0"/>
<path d="M92.24,301.70L94.04,303.90L92.24,306.10L90.44,303.90Z" fill="#a050e0"/>
<path d="M99.56,302.31L101.36,304.51L99.56,306.71L97.76,304.51Z" fill="#a050e0"/>
<path d="M106.88,302.77L108.68,304.97L106.88,307.17L105.08,304.97Z" fill="#a050e0"/>
<path d="M114.20,303.08L116.00,305.28L114.20,307.48L112.40,305.28Z" fill="#a050e0"/>
<path d="M121.52,303.08L123.32,305.28L121.52,307.48L119.72,305.28Z" fill="#a050e0"/>
<path d="M128.84,302.62L130.64,304.82L128.84,307.02L127.04,304.82Z" fill="#a050e0"/>
<path d="M136.16,302.60L137.96,304.80L136.16,307.00L134.36,304.80Z" fill="#a050e0"/>
<path d="M143.48,302.58L145.28,304.78L143.48,306.98L141.68,304.78Z" fill="#a050e0"/>
<path d="M150.80,302.56L152.60,304.76L150.80,306.96L149.00,304.76Z" fill="#a050e0"/>
<path d="M158.12,302.54L159.92,304.74L158.12,306.94L156.32,304.74Z" fill="#a050e0"/>
<path d="M165.44,302.52L167.24,304.72L165.44,306.92L163.64,304.72Z" fill="#a050e0"/>
<path d="M172.76,302.51L174.56,304.71L172.76,306.91L170.96,304.71Z" fill="#a050e0"/>
<path d="M180.08,302.49L181.88,304.69L180.08,306.89L178.28,304.69Z" fill="#a050e0"/>
<path d="M187.40,302.47L189.20,304.67L187.40,306.87L185.60,304.67Z" fill="#a050e0"/>
<path d="M194.72,302.45L196.52,304.65L194.72,306.85L192.92,304.65Z" fill="#a050e0"/>
<path d="M202.04,302.43L203.84,304.63L202.04,306.83L200.24,304.63Z" fill="#a050e0"/>
<path d="M209.36,302.41L211.16,304.61L209.36,306.81L207.56,304.61Z" fill="#a050e0"/>
<path d="M216.68,302.39L218.48,304.59L216.68,306.79L214.88,304.59Z" fill="#a050e0"/>
<path d="M224.00,302.37L225.80,304.57L224.00,306.77L222.20,304.57Z" fill="#a050e0"/>
<path d="M231.32,302.35L233.12,304.55L231.32,306.75L229.52,304.55Z" fill="#a050e0"/>
<path d="M238.64,302.33L240.44,304.53L238.64,306.73L236.84,304.53Z" fill="#a050e0"/>
<path d="M242.30,302.31L244.10,304.51L242.30,306.71L240.50,304.51Z" fill="#a050e0"/>
<rect x="41.10" y="196.10" width="219.30" height="153.30" fill="none" stroke="#000" stroke-width="1.7"/>
<path d="M41.10,196.10h3M41.10,226.76h3M41.10,257.42h3M41.10,288.08h3M41.10,318.74h3M41.10,349.40h3M59.30,349.40v-3M95.90,349.40v-3M132.50,349.40v-3M169.10,349.40v-3M205.70,349.40v-3M242.30,349.40v-3" stroke="#000" stroke-width="1.3"/>
<text class="tk" x="26.08" y="199.20" textLength="12.42" lengthAdjust="spacingAndGlyphs">0.2</text>
<text class="tk" x="26.08" y="229.86" textLength="12.42" lengthAdjust="spacingAndGlyphs">0.0</text>
<text class="tk" x="22.77" y="260.52" textLength="15.73" lengthAdjust="spacingAndGlyphs">-0.2</text>
<text class="tk" x="22.77" y="291.18" textLength="15.73" lengthAdjust="spacingAndGlyphs">-0.4</text>
<text class="tk" x="22.77" y="321.84" textLength="15.73" lengthAdjust="spacingAndGlyphs">-0.6</text>
<text class="tk" x="22.77" y="352.50" textLength="15.73" lengthAdjust="spacingAndGlyphs">-0.8</text>
<text class="tk" x="56.81" y="360.80" textLength="4.97" lengthAdjust="spacingAndGlyphs">0</text>
<text class="tk" x="93.41" y="360.80" textLength="4.97" lengthAdjust="spacingAndGlyphs">1</text>
<text class="tk" x="130.01" y="360.80" textLength="4.97" lengthAdjust="spacingAndGlyphs">2</text>
<text class="tk" x="166.61" y="360.80" textLength="4.97" lengthAdjust="spacingAndGlyphs">3</text>
<text class="tk" x="203.21" y="360.80" textLength="4.97" lengthAdjust="spacingAndGlyphs">4</text>
<text class="tk" x="239.81" y="360.80" textLength="4.97" lengthAdjust="spacingAndGlyphs">5</text>
<text class="ax" x="149.50" y="378.70" text-anchor="middle">Steps (10<tspan class="sup" dy="-4.3">4</tspan><tspan dy="4.3">)</tspan></text>
<text class="ax" transform="translate(16.70,272.20) rotate(-90)" text-anchor="middle">Energy density (10<tspan class="sup" dy="-3.2">5</tspan><tspan dy="3.2"> J/m</tspan><tspan class="sup" dy="-4.0">3</tspan><tspan dy="4.0">)</tspan></text>
<text class="pl" x="0.40" y="202.90">(c)</text>
<text class="th" x="45.80" y="262.60">θ=90°</text>
<path d="M336.36,315.66L340.68,320.27M344.38,322.01L347.30,322.20M351.70,322.34L354.62,322.35M359.02,322.36L361.94,322.37M366.34,322.38L369.26,322.39M373.66,322.40L376.58,322.41M380.98,322.42L383.90,322.43M388.30,322.44L391.22,322.45M395.62,322.46L398.54,322.47M402.94,322.48L405.86,322.49M410.26,322.50L413.18,322.51M417.58,322.52L420.50,322.53M424.90,322.54L427.82,322.55M432.22,322.56L435.14,322.57M439.54,322.58L442.46,322.59M446.86,322.60L449.78,322.61M454.18,322.62L457.10,322.63M461.50,322.64L464.42,322.65M468.82,322.66L471.74,322.67M476.14,322.68L479.06,322.69M483.46,322.70L486.38,322.71M490.78,322.72L493.70,322.73M498.10,322.74L501.02,322.75M505.42,322.76L508.34,322.77" fill="none" stroke="#0a50e0" stroke-width="1"/>
<path d="M334.86,311.86L336.76,315.66L332.96,315.66Z" fill="#0a50e0"/>
<path d="M342.18,319.68L344.08,323.48L340.28,323.48Z" fill="#0a50e0"/>
<path d="M349.50,320.14L351.40,323.94L347.60,323.94Z" fill="#0a50e0"/>
<path d="M356.82,320.16L358.72,323.96L354.92,323.96Z" fill="#0a50e0"/>
<path d="M364.14,320.18L366.04,323.98L362.24,323.98Z" fill="#0a50e0"/>
<path d="M371.46,320.20L373.36,324.00L369.56,324.00Z" fill="#0a50e0"/>
<path d="M378.78,320.22L380.68,324.02L376.88,324.02Z" fill="#0a50e0"/>
<path d="M386.10,320.24L388.00,324.04L384.20,324.04Z" fill="#0a50e0"/>
<path d="M393.42,320.26L395.32,324.06L391.52,324.06Z" fill="#0a50e0"/>
<path d="M400.74,320.28L402.64,324.08L398.84,324.08Z" fill="#0a50e0"/>
<path d="M408.06,320.30L409.96,324.10L406.16,324.10Z" fill="#0a50e0"/>
<path d="M415.38,320.32L417.28,324.12L413.48,324.12Z" fill="#0a50e0"/>
<path d="M422.70,320.34L424.60,324.14L420.80,324.14Z" fill="#0a50e0"/>
<path d="M430.02,320.36L431.92,324.16L428.12,324.16Z" fill="#0a50e0"/>
<path d="M437.34,320.38L439.24,324.18L435.44,324.18Z" fill="#0a50e0"/>
<path d="M444.66,320.40L446.56,324.20L442.76,324.20Z" fill="#0a50e0"/>
<path d="M451.98,320.42L453.88,324.22L450.08,324.22Z" fill="#0a50e0"/>
<path d="M459.30,320.44L461.20,324.24L457.40,324.24Z" fill="#0a50e0"/>
<path d="M466.62,320.46L468.52,324.26L464.72,324.26Z" fill="#0a50e0"/>
<path d="M473.94,320.48L475.84,324.28L472.04,324.28Z" fill="#0a50e0"/>
<path d="M481.26,320.50L483.16,324.30L479.36,324.30Z" fill="#0a50e0"/>
<path d="M488.58,320.52L490.48,324.32L486.68,324.32Z" fill="#0a50e0"/>
<path d="M495.90,320.54L497.80,324.34L494.00,324.34Z" fill="#0a50e0"/>
<path d="M503.22,320.56L505.12,324.36L501.32,324.36Z" fill="#0a50e0"/>
<path d="M510.54,320.58L512.44,324.38L508.64,324.38Z" fill="#0a50e0"/>
<path d="M514.20,320.60L516.10,324.40L512.30,324.40Z" fill="#0a50e0"/>
<path d="M336.14,225.83L340.90,232.89M344.46,235.09L347.22,235.43M351.79,235.91L354.53,236.14M359.12,236.43L361.84,236.54M366.44,236.64L369.16,236.64M373.76,236.62L376.48,236.60M381.08,236.57L383.80,236.55M388.40,236.52L391.12,236.50M395.72,236.46L398.44,236.44M403.04,236.41L405.76,236.39M410.36,236.36L413.08,236.34M417.68,236.30L420.40,236.28M425.00,236.25L427.72,236.23M432.32,236.20L435.04,236.18M439.64,236.14L442.36,236.12M446.96,236.09L449.68,236.07M454.28,236.03L457.00,236.01M461.60,235.98L464.32,235.96M468.92,235.93L471.64,235.91M476.24,235.87L478.96,235.85M483.56,235.82L486.28,235.80M490.88,235.77L493.60,235.75M498.20,235.71L500.92,235.69M505.52,235.66L508.24,235.64" fill="none" stroke="#f20000" stroke-width="1"/>
<circle cx="334.86" cy="223.92" r="1.75" fill="#f20000"/>
<circle cx="342.18" cy="234.80" r="1.75" fill="#f20000"/>
<circle cx="349.50" cy="235.72" r="1.75" fill="#f20000"/>
<circle cx="356.82" cy="236.33" r="1.75" fill="#f20000"/>
<circle cx="364.14" cy="236.64" r="1.75" fill="#f20000"/>
<circle cx="371.46" cy="236.64" r="1.75" fill="#f20000"/>
<circle cx="378.78" cy="236.59" r="1.75" fill="#f20000"/>
<circle cx="386.10" cy="236.53" r="1.75" fill="#f20000"/>
<circle cx="393.42" cy="236.48" r="1.75" fill="#f20000"/>
<circle cx="400.74" cy="236.43" r="1.75" fill="#f20000"/>
<circle cx="408.06" cy="236.37" r="1.75" fill="#f20000"/>
<circle cx="415.38" cy="236.32" r="1.75" fill="#f20000"/>
<circle cx="422.70" cy="236.27" r="1.75" fill="#f20000"/>
<circle cx="430.02" cy="236.21" r="1.75" fill="#f20000"/>
<circle cx="437.34" cy="236.16" r="1.75" fill="#f20000"/>
<circle cx="444.66" cy="236.10" r="1.75" fill="#f20000"/>
<circle cx="451.98" cy="236.05" r="1.75" fill="#f20000"/>
<circle cx="459.30" cy="236.00" r="1.75" fill="#f20000"/>
<circle cx="466.62" cy="235.94" r="1.75" fill="#f20000"/>
<circle cx="473.94" cy="235.89" r="1.75" fill="#f20000"/>
<circle cx="481.26" cy="235.84" r="1.75" fill="#f20000"/>
<circle cx="488.58" cy="235.78" r="1.75" fill="#f20000"/>
<circle cx="495.90" cy="235.73" r="1.75" fill="#f20000"/>
<circle cx="503.22" cy="235.68" r="1.75" fill="#f20000"/>
<circle cx="510.54" cy="235.62" r="1.75" fill="#f20000"/>
<circle cx="514.20" cy="235.57" r="1.75" fill="#f20000"/>
<path d="M337.08,208.58L339.96,209.36M344.46,210.30L347.22,210.71M351.79,211.28L354.53,211.57M359.12,211.81L361.84,211.82M366.44,211.82L369.16,211.83M373.76,211.84L376.48,211.84M381.08,211.85L383.80,211.86M388.40,211.87L391.12,211.87M395.72,211.88L398.44,211.89M403.04,211.89L405.76,211.90M410.36,211.91L413.08,211.91M417.68,211.92L420.40,211.93M425.00,211.94L427.72,211.94M432.32,211.95L435.04,211.96M439.64,211.96L442.36,211.97M446.96,211.98L449.68,211.98M454.28,211.99L457.00,212.00M461.60,212.01L464.32,212.01M468.92,212.02L471.64,212.03M476.24,212.03L478.96,212.04M483.56,212.05L486.28,212.05M490.88,212.06L493.60,212.07M498.20,212.08L500.92,212.08M505.52,212.09L508.24,212.09" fill="none" stroke="#1c1c1c" stroke-width="1"/>
<rect x="333.36" y="206.47" width="3" height="3" fill="#1c1c1c"/>
<rect x="340.68" y="208.47" width="3" height="3" fill="#1c1c1c"/>
<rect x="348.00" y="209.54" width="3" height="3" fill="#1c1c1c"/>
<rect x="355.32" y="210.31" width="3" height="3" fill="#1c1c1c"/>
<rect x="362.64" y="210.32" width="3" height="3" fill="#1c1c1c"/>
<rect x="369.96" y="210.33" width="3" height="3" fill="#1c1c1c"/>
<rect x="377.28" y="210.35" width="3" height="3" fill="#1c1c1c"/>
<rect x="384.60" y="210.36" width="3" height="3" fill="#1c1c1c"/>
<rect x="391.92" y="210.38" width="3" height="3" fill="#1c1c1c"/>
<rect x="399.24" y="210.39" width="3" height="3" fill="#1c1c1c"/>
<rect x="406.56" y="210.40" width="3" height="3" fill="#1c1c1c"/>
<rect x="413.88" y="210.42" width="3" height="3" fill="#1c1c1c"/>
<rect x="421.20" y="210.43" width="3" height="3" fill="#1c1c1c"/>
<rect x="428.52" y="210.45" width="3" height="3" fill="#1c1c1c"/>
<rect x="435.84" y="210.46" width="3" height="3" fill="#1c1c1c"/>
<rect x="443.16" y="210.47" width="3" height="3" fill="#1c1c1c"/>
<rect x="450.48" y="210.49" width="3" height="3" fill="#1c1c1c"/>
<rect x="457.80" y="210.50" width="3" height="3" fill="#1c1c1c"/>
<rect x="465.12" y="210.52" width="3" height="3" fill="#1c1c1c"/>
<rect x="472.44" y="210.53" width="3" height="3" fill="#1c1c1c"/>
<rect x="479.76" y="210.54" width="3" height="3" fill="#1c1c1c"/>
<rect x="487.08" y="210.56" width="3" height="3" fill="#1c1c1c"/>
<rect x="494.40" y="210.57" width="3" height="3" fill="#1c1c1c"/>
<rect x="501.72" y="210.59" width="3" height="3" fill="#1c1c1c"/>
<rect x="509.04" y="210.60" width="3" height="3" fill="#1c1c1c"/>
<rect x="512.70" y="210.61" width="3" height="3" fill="#1c1c1c"/>
<path d="M336.87,213.68L340.17,212.23M344.37,211.53L347.31,211.78M351.70,211.96L354.62,211.97M359.02,211.98L361.94,211.98M366.34,211.99L369.26,212.00M373.66,212.00L376.58,212.01M380.98,212.02L383.90,212.02M388.30,212.03L391.22,212.04M395.62,212.04L398.54,212.05M402.94,212.06L405.86,212.06M410.26,212.07L413.18,212.08M417.58,212.08L420.50,212.09M424.90,212.10L427.82,212.10M432.22,212.11L435.14,212.12M439.54,212.12L442.46,212.13M446.86,212.14L449.78,212.14M454.18,212.15L457.10,212.16M461.50,212.16L464.42,212.17M468.82,212.18L471.74,212.18M476.14,212.19L479.06,212.20M483.46,212.20L486.38,212.21M490.78,212.22L493.70,212.22M498.10,212.23L501.02,212.24M505.42,212.24L508.34,212.25" fill="none" stroke="#05983a" stroke-width="1"/>
<path d="M334.86,216.87L336.66,213.17L333.06,213.17Z" fill="#05983a"/>
<path d="M342.18,213.65L343.98,209.95L340.38,209.95Z" fill="#05983a"/>
<path d="M349.50,214.26L351.30,210.56L347.70,210.56Z" fill="#05983a"/>
<path d="M356.82,214.27L358.62,210.57L355.02,210.57Z" fill="#05983a"/>
<path d="M364.14,214.29L365.94,210.59L362.34,210.59Z" fill="#05983a"/>
<path d="M371.46,214.30L373.26,210.60L369.66,210.60Z" fill="#05983a"/>
<path d="M378.78,214.31L380.58,210.61L376.98,210.61Z" fill="#05983a"/>
<path d="M386.10,214.33L387.90,210.63L384.30,210.63Z" fill="#05983a"/>
<path d="M393.42,214.34L395.22,210.64L391.62,210.64Z" fill="#05983a"/>
<path d="M400.74,214.35L402.54,210.65L398.94,210.65Z" fill="#05983a"/>
<path d="M408.06,214.37L409.86,210.67L406.26,210.67Z" fill="#05983a"/>
<path d="M415.38,214.38L417.18,210.68L413.58,210.68Z" fill="#05983a"/>
<path d="M422.70,214.39L424.50,210.69L420.90,210.69Z" fill="#05983a"/>
<path d="M430.02,214.41L431.82,210.71L428.22,210.71Z" fill="#05983a"/>
<path d="M437.34,214.42L439.14,210.72L435.54,210.72Z" fill="#05983a"/>
<path d="M444.66,214.43L446.46,210.73L442.86,210.73Z" fill="#05983a"/>
<path d="M451.98,214.45L453.78,210.75L450.18,210.75Z" fill="#05983a"/>
<path d="M459.30,214.46L461.10,210.76L457.50,210.76Z" fill="#05983a"/>
<path d="M466.62,214.47L468.42,210.77L464.82,210.77Z" fill="#05983a"/>
<path d="M473.94,214.49L475.74,210.79L472.14,210.79Z" fill="#05983a"/>
<path d="M481.26,214.50L483.06,210.80L479.46,210.80Z" fill="#05983a"/>
<path d="M488.58,214.51L490.38,210.81L486.78,210.81Z" fill="#05983a"/>
<path d="M495.90,214.53L497.70,210.83L494.10,210.83Z" fill="#05983a"/>
<path d="M503.22,214.54L505.02,210.84L501.42,210.84Z" fill="#05983a"/>
<path d="M510.54,214.55L512.34,210.85L508.74,210.85Z" fill="#05983a"/>
<path d="M514.20,214.57L516.00,210.87L512.40,210.87Z" fill="#05983a"/>
<path d="M335.51,281.40L341.53,297.05M343.94,299.10L347.74,299.89M351.28,300.52L355.04,301.07M358.61,301.56L362.35,302.03M365.93,302.40L369.67,302.72M373.25,303.02L376.99,303.33M380.58,303.48L384.30,303.48M387.90,303.47L391.62,303.45M395.22,303.43L398.94,303.41M402.54,303.38L406.26,303.36M409.86,303.34L413.58,303.32M417.18,303.30L420.90,303.28M424.50,303.26L428.22,303.24M431.82,303.21L435.54,303.19M439.14,303.17L442.86,303.15M446.46,303.13L450.18,303.11M453.78,303.09L457.50,303.06M461.10,303.04L464.82,303.02M468.42,303.00L472.14,302.98M475.74,302.96L479.46,302.94M483.06,302.92L486.78,302.89M490.38,302.87L494.10,302.85M497.70,302.83L501.42,302.81M505.02,302.79L508.74,302.77" fill="none" stroke="#a050e0" stroke-width="1"/>
<path d="M334.86,277.52L336.66,279.72L334.86,281.92L333.06,279.72Z" fill="#a050e0"/>
<path d="M342.18,296.53L343.98,298.73L342.18,300.93L340.38,298.73Z" fill="#a050e0"/>
<path d="M349.50,298.06L351.30,300.26L349.50,302.46L347.70,300.26Z" fill="#a050e0"/>
<path d="M356.82,299.13L358.62,301.33L356.82,303.53L355.02,301.33Z" fill="#a050e0"/>
<path d="M364.14,300.05L365.94,302.25L364.14,304.45L362.34,302.25Z" fill="#a050e0"/>
<path d="M371.46,300.67L373.26,302.87L371.46,305.07L369.66,302.87Z" fill="#a050e0"/>
<path d="M378.78,301.28L380.58,303.48L378.78,305.68L376.98,303.48Z" fill="#a050e0"/>
<path d="M386.10,301.28L387.90,303.48L386.10,305.68L384.30,303.48Z" fill="#a050e0"/>
<path d="M393.42,301.24L395.22,303.44L393.42,305.64L391.62,303.44Z" fill="#a050e0"/>
<path d="M400.74,301.19L402.54,303.39L400.74,305.59L398.94,303.39Z" fill="#a050e0"/>
<path d="M408.06,301.15L409.86,303.35L408.06,305.55L406.26,303.35Z" fill="#a050e0"/>
<path d="M415.38,301.11L417.18,303.31L415.38,305.51L413.58,303.31Z" fill="#a050e0"/>
<path d="M422.70,301.07L424.50,303.27L422.70,305.47L420.90,303.27Z" fill="#a050e0"/>
<path d="M430.02,301.02L431.82,303.22L430.02,305.42L428.22,303.22Z" fill="#a050e0"/>
<path d="M437.34,300.98L439.14,303.18L437.34,305.38L435.54,303.18Z" fill="#a050e0"/>
<path d="M444.66,300.94L446.46,303.14L444.66,305.34L442.86,303.14Z" fill="#a050e0"/>
<path d="M451.98,300.90L453.78,303.10L451.98,305.30L450.18,303.10Z" fill="#a050e0"/>
<path d="M459.30,300.85L461.10,303.05L459.30,305.25L457.50,303.05Z" fill="#a050e0"/>
<path d="M466.62,300.81L468.42,303.01L466.62,305.21L464.82,303.01Z" fill="#a050e0"/>
<path d="M473.94,300.77L475.74,302.97L473.94,305.17L472.14,302.97Z" fill="#a050e0"/>
<path d="M481.26,300.73L483.06,302.93L481.26,305.13L479.46,302.93Z" fill="#a050e0"/>
<path d="M488.58,300.68L490.38,302.88L488.58,305.08L486.78,302.88Z" fill="#a050e0"/>
<path d="M495.90,300.64L497.70,302.84L495.90,305.04L494.10,302.84Z" fill="#a050e0"/>
<path d="M503.22,300.60L505.02,302.80L503.22,305.00L501.42,302.80Z" fill="#a050e0"/>
<path d="M510.54,300.56L512.34,302.76L510.54,304.96L508.74,302.76Z" fill="#a050e0"/>
<path d="M514.20,300.51L516.00,302.71L514.20,304.91L512.40,302.71Z" fill="#a050e0"/>
<rect x="313.00" y="196.40" width="219.30" height="153.30" fill="none" stroke="#000" stroke-width="1.7"/>
<path d="M313.00,196.40h3M313.00,227.06h3M313.00,257.72h3M313.00,288.38h3M313.00,319.04h3M313.00,349.70h3M331.20,349.70v-3M367.80,349.70v-3M404.40,349.70v-3M441.00,349.70v-3M477.60,349.70v-3M514.20,349.70v-3" stroke="#000" stroke-width="1.3"/>
<text class="tk" x="297.38" y="199.50" textLength="12.42" lengthAdjust="spacingAndGlyphs">0.2</text>
<text class="tk" x="297.38" y="230.16" textLength="12.42" lengthAdjust="spacingAndGlyphs">0.0</text>
<text class="tk" x="294.07" y="260.82" textLength="15.73" lengthAdjust="spacingAndGlyphs">-0.2</text>
<text class="tk" x="294.07" y="291.48" textLength="15.73" lengthAdjust="spacingAndGlyphs">-0.4</text>
<text class="tk" x="294.07" y="322.14" textLength="15.73" lengthAdjust="spacingAndGlyphs">-0.6</text>
<text class="tk" x="294.07" y="352.80" textLength="15.73" lengthAdjust="spacingAndGlyphs">-0.8</text>
<text class="tk" x="328.71" y="361.10" textLength="4.97" lengthAdjust="spacingAndGlyphs">0</text>
<text class="tk" x="365.31" y="361.10" textLength="4.97" lengthAdjust="spacingAndGlyphs">1</text>
<text class="tk" x="401.91" y="361.10" textLength="4.97" lengthAdjust="spacingAndGlyphs">2</text>
<text class="tk" x="438.51" y="361.10" textLength="4.97" lengthAdjust="spacingAndGlyphs">3</text>
<text class="tk" x="475.11" y="361.10" textLength="4.97" lengthAdjust="spacingAndGlyphs">4</text>
<text class="tk" x="511.71" y="361.10" textLength="4.97" lengthAdjust="spacingAndGlyphs">5</text>
<text class="ax" x="427.80" y="378.40" text-anchor="middle">Steps (10<tspan class="sup" dy="-4.3">4</tspan><tspan dy="4.3">)</tspan></text>
<text class="ax" transform="translate(288.60,272.50) rotate(-90)" text-anchor="middle">Energy density (10<tspan class="sup" dy="-3.2">5</tspan><tspan dy="3.2"> J/m</tspan><tspan class="sup" dy="-4.0">3</tspan><tspan dy="4.0">)</tspan></text>
<text class="pl" x="275.50" y="206.60">(d)</text>
<text class="th" x="320.80" y="262.60">θ=180°</text>
</svg>
</body></html>
